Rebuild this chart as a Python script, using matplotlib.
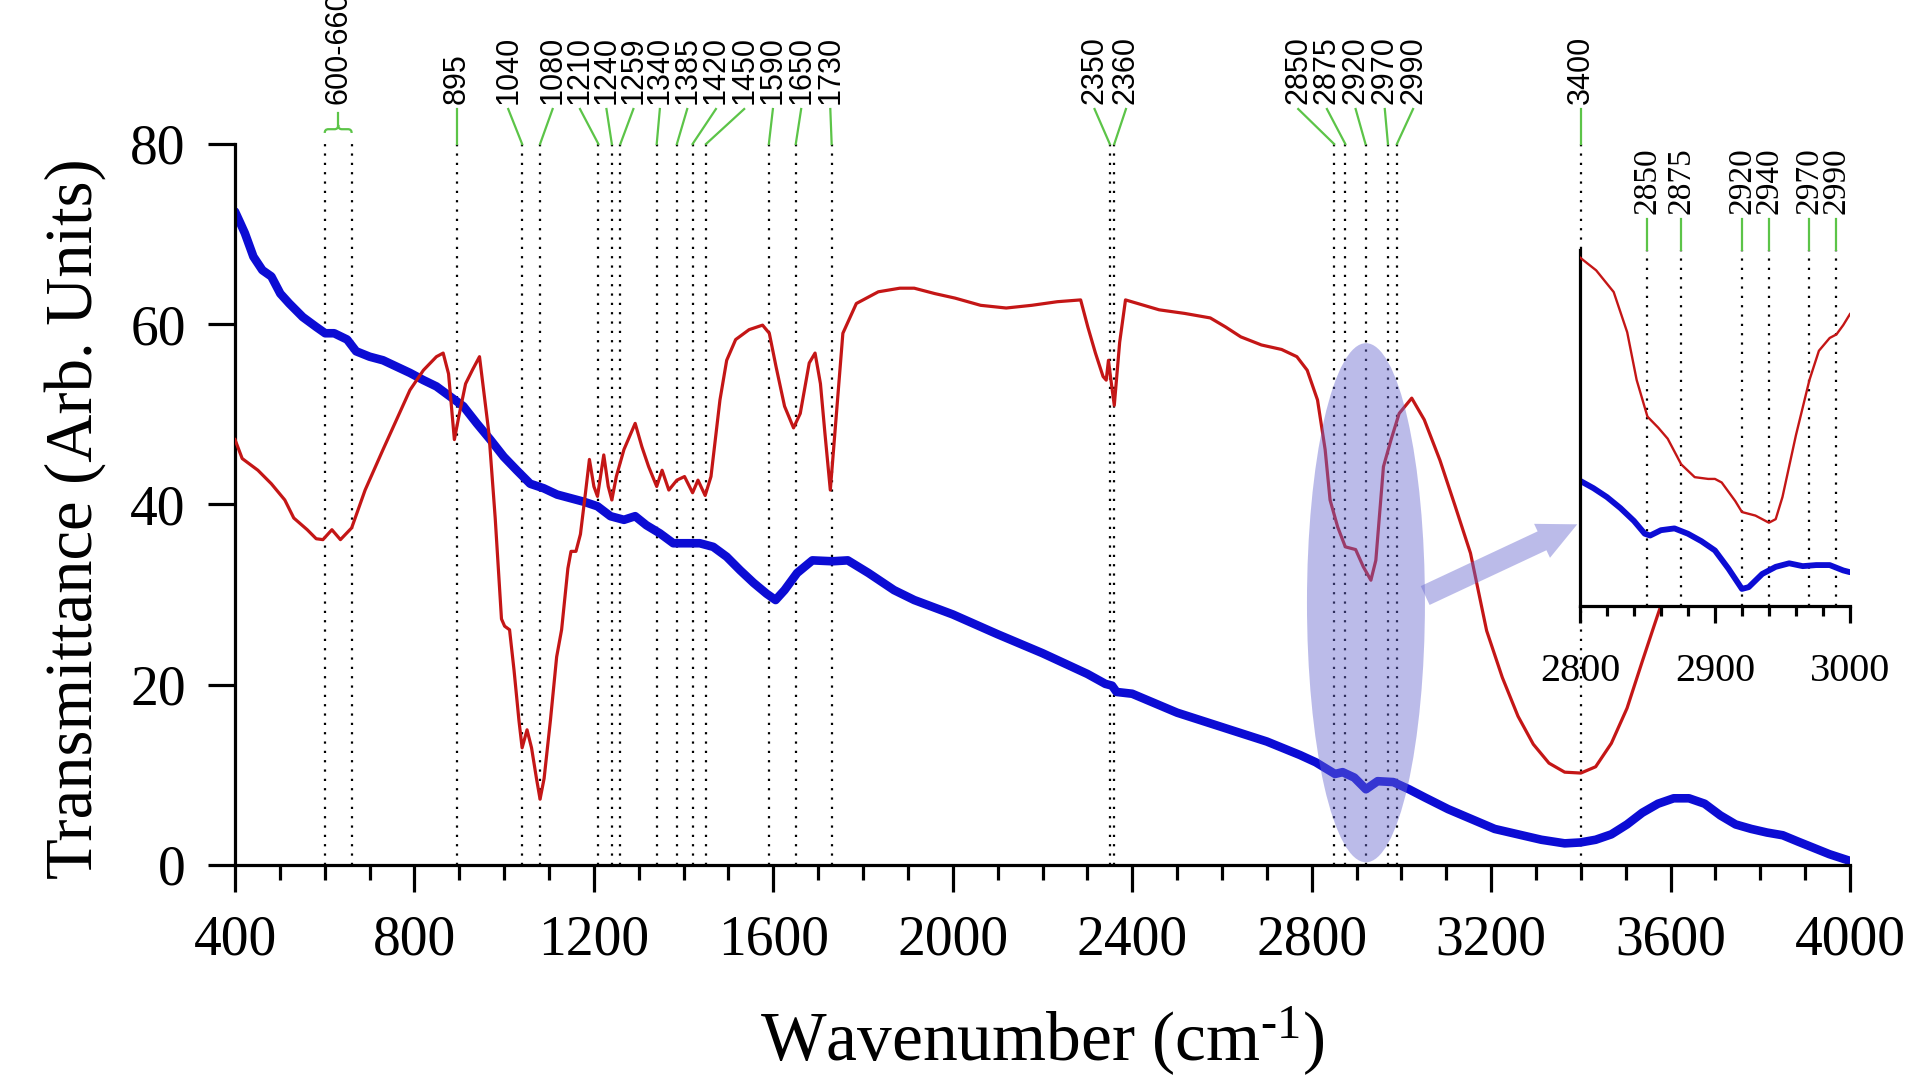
import numpy as np
import matplotlib
matplotlib.use("Agg")
import matplotlib.pyplot as plt
from matplotlib.patches import Ellipse, FancyArrowPatch, PathPatch
from matplotlib.path import Path
from matplotlib.transforms import blended_transform_factory

# ---------------- data ----------------
red_x = [400, 416, 451, 481, 511, 531, 561, 581, 596, 616, 635, 660, 690, 730, 760, 790,
         820, 849, 864, 876, 889, 899, 914, 930, 945, 966, 980, 994, 1001, 1012, 1022,
         1033, 1040, 1051, 1061, 1072, 1080, 1089, 1103, 1117, 1128, 1142, 1149, 1160,
         1170, 1181, 1190, 1200, 1208, 1222, 1232, 1240, 1250, 1267, 1292, 1307, 1322,
         1340, 1352, 1367, 1385, 1402, 1420, 1432, 1448, 1461, 1481, 1496, 1516, 1546,
         1576, 1591, 1606, 1625, 1645, 1660, 1680, 1693, 1705, 1715, 1727, 1740, 1755,
         1785, 1834, 1882, 1914, 1960, 2005, 2062, 2119, 2176, 2233, 2285, 2301, 2318,
         2335, 2342, 2347, 2352, 2360, 2372, 2385, 2426, 2460, 2517, 2574, 2608, 2642,
         2688, 2733, 2767, 2790, 2813, 2830, 2841, 2858, 2875, 2898, 2915, 2932, 2943,
         2960, 2977, 2995, 3023, 3051, 3086, 3120, 3154, 3190, 3225, 3260, 3294, 3329,
         3364, 3400, 3433, 3468, 3503, 3537, 3563, 3590]
red_y = [47.2, 45.1, 43.8, 42.3, 40.5, 38.5, 37.2, 36.2, 36.1, 37.2, 36.1, 37.4, 41.6,
         46.1, 49.4, 52.7, 54.9, 56.4, 56.8, 54.5, 47.2, 49.8, 53.4, 55.0, 56.4, 47.9,
         38.5, 27.3, 26.5, 26.1, 21.6, 16.0, 13.0, 15.0, 13.0, 9.6, 7.3, 9.6, 16.0, 23.1,
         26.1, 32.9, 34.8, 34.8, 36.7, 41.2, 45.0, 42.0, 40.9, 45.5, 42.0, 40.5, 43.1,
         46.1, 49.0, 46.4, 44.2, 42.0, 43.8, 41.6, 42.7, 43.1, 41.3, 42.7, 41.0, 43.1,
         51.6, 56.0, 58.3, 59.4, 59.9, 59.0, 55.3, 50.9, 48.5, 50.1, 55.7, 56.8, 53.4,
         47.9, 41.6, 49.7, 59.0, 62.3, 63.6, 64.0, 64.0, 63.4, 62.9, 62.1, 61.8, 62.1,
         62.5, 62.7, 59.7, 56.8, 54.2, 53.8, 56.0, 54.0, 51.0, 58.0, 62.7, 62.1, 61.6,
         61.2, 60.7, 59.7, 58.6, 57.7, 57.2, 56.4, 54.9, 51.6, 46.1, 40.5, 37.5, 35.3,
         35.0, 33.1, 31.6, 33.8, 44.2, 47.2, 50.1, 51.8, 49.4, 44.9, 39.8, 34.6, 26.0,
         20.8, 16.5, 13.4, 11.3, 10.3, 10.2, 10.9, 13.5, 17.4, 22.6, 26.5, 30.5]

blue_x = [400, 412, 422, 441, 461, 481, 501, 521, 551, 581, 601, 621, 650, 670, 700, 730,
          760, 790, 820, 849, 879, 909, 939, 969, 999, 1028, 1058, 1088, 1118, 1148, 1178,
          1208, 1237, 1267, 1292, 1317, 1347, 1377, 1407, 1436, 1466, 1496, 1526, 1556,
          1585, 1605, 1625, 1653, 1687, 1732, 1766, 1812, 1869, 1914, 2000, 2100, 2200,
          2300, 2340, 2355, 2365, 2400, 2500, 2600, 2700, 2774, 2809, 2852, 2869, 2895,
          2921, 2947, 2982, 3017, 3052, 3104, 3156, 3208, 3260, 3312, 3364, 3399, 3433,
          3468, 3503, 3537, 3572, 3607, 3641, 3676, 3711, 3745, 3780, 3815, 3850, 3884,
          3919, 3954, 3997]
blue_y = [72.5, 71.2, 70.1, 67.5, 66.0, 65.3, 63.4, 62.3, 60.8, 59.7, 59.0, 59.0, 58.3,
          57.0, 56.4, 56.0, 55.3, 54.6, 53.8, 53.1, 52.0, 50.9, 49.0, 47.2, 45.3, 43.8,
          42.3, 41.8, 41.1, 40.7, 40.3, 39.8, 38.7, 38.3, 38.7, 37.7, 36.8, 35.7, 35.7,
          35.7, 35.3, 34.2, 32.7, 31.3, 30.1, 29.4, 30.5, 32.4, 33.8, 33.7, 33.8, 32.4,
          30.5, 29.4, 27.8, 25.6, 23.5, 21.2, 20.1, 19.9, 19.2, 19.0, 16.9, 15.3, 13.7,
          12.2, 11.4, 10.1, 10.3, 9.7, 8.4, 9.3, 9.2, 8.4, 7.5, 6.2, 5.1, 4.0, 3.4, 2.8,
          2.4, 2.5, 2.8, 3.4, 4.5, 5.8, 6.8, 7.4, 7.4, 6.8, 5.5, 4.5, 4.0, 3.6, 3.3, 2.6,
          1.9, 1.2, 0.5]

inset_red_x = [2800, 2812, 2825, 2835, 2842, 2850, 2858, 2865, 2875, 2885, 2895, 2900,
               2905, 2915, 2920, 2930, 2940, 2945, 2950, 2960, 2970, 2977, 2985, 2990,
               2995, 3000]
inset_red_y = [97.9, 94.3, 88.2, 76.9, 63.5, 53.2, 50.1, 47.0, 39.8, 36.2, 35.7, 35.7,
               34.7, 29.5, 26.4, 25.4, 23.4, 24.4, 30.6, 48.0, 63.5, 71.7, 75.3, 76.3,
               78.9, 82.0]
inset_blue_x = [2800, 2810, 2820, 2830, 2840, 2848, 2852, 2860, 2870, 2880, 2890, 2900,
                2910, 2920, 2925, 2935, 2945, 2955, 2965, 2975, 2985, 2995, 3000]
inset_blue_y = [35.2, 33.1, 30.6, 27.5, 23.9, 20.3, 19.8, 21.3, 21.8, 20.3, 18.2, 15.6,
                10.5, 4.8, 5.3, 9.0, 11.0, 12.0, 11.2, 11.5, 11.5, 10.0, 9.5]

# peak markers: (peak position, label position, label text)
peak_pos = [1040, 1080, 1210, 1240, 1259, 1340, 1385, 1420, 1450, 1590, 1650, 1730,
            2350, 2360, 2850, 2875, 2920, 2970, 2990, 3400, 895]
peak_label_x = [1009, 1108, 1169, 1228, 1288, 1347, 1408, 1472, 1535, 1599, 1662, 1727,
                2316, 2386, 2770, 2834, 2898, 2963, 3026, 3400, 895]
peak_text = ["1040", "1080", "1210", "1240", "1259", "1340", "1385", "1420", "1450",
             "1590", "1650", "1730", "2350", "2360", "2850", "2875", "2920", "2970",
             "2990", "3400", "895"]
range_peaks = [600, 660]
range_text = "600-660"

inset_peaks = [2850, 2875, 2920, 2940, 2970, 2990]
inset_text = ["2850", "2875", "2920", "2940", "2970", "2990"]

x_ticks = [400, 800, 1200, 1600, 2000, 2400, 2800, 3200, 3600, 4000]
y_ticks = [0, 20, 40, 60, 80]
inset_ticks = [2800, 2900, 3000]

# ---------------- style ----------------
plt.rcParams['font.family'] = ['Liberation Serif', 'DejaVu Serif']
plt.rcParams['mathtext.fontset'] = 'custom'
plt.rcParams['mathtext.rm'] = 'Liberation Serif'
plt.rcParams['mathtext.it'] = 'Liberation Serif:italic'
plt.rcParams['mathtext.bf'] = 'Liberation Serif:bold'

RED = '#c41616'
BLUE = '#0c0cd4'
GREEN = '#5cc448'
LAV = '#6a6ad0'
DOT = (0, (1, 3.2))

fig = plt.figure(figsize=(19.1, 10.81), dpi=100)
ax = fig.add_axes([0.12304, 0.19982, 0.84555, 0.66698])

ax.set_xlim(400, 4000)
ax.set_ylim(0, 80)
for s in ['top', 'right']:
    ax.spines[s].set_visible(False)
for s in ['left', 'bottom']:
    ax.spines[s].set_linewidth(2.3)

ax.set_xticks(x_ticks)
ax.set_xticks(np.arange(400, 4001, 100), minor=True)
ax.set_yticks(y_ticks)
ax.tick_params(axis='both', which='major', length=19.5, width=2.3, direction='out',
               labelsize=40)
ax.tick_params(axis='x', which='major', pad=16)
ax.tick_params(axis='y', which='major', pad=16)
ax.tick_params(axis='x', which='minor', length=10.5, width=2.3, direction='out')

ax.set_xlabel('Wavenumber (cm$^{\\mathrm{\u2010}1}$)', fontsize=50)
ax.xaxis.label.set_va('center')
ax.xaxis.set_label_coords(0.5, -0.244)
ax.set_ylabel('Transmittance (Arb. Units)', fontsize=48)
ax.yaxis.label.set_va('center')
ax.yaxis.set_label_coords(-0.099, 0.481)

# dotted guide lines
all_guides = range_peaks + peak_pos
ax.vlines(all_guides, 0, 80, colors='k', linestyles=DOT, linewidth=1.6, zorder=1)

ax.plot(blue_x, blue_y, color=BLUE, lw=6.2, zorder=2, solid_joinstyle='round',
        solid_capstyle='round')
ax.plot(red_x, red_y, color=RED, lw=2.3, zorder=3)

# highlight ellipse and arrow
ax.add_patch(Ellipse((2921, 29.1), 263, 57.6, facecolor=LAV, alpha=0.45,
                     edgecolor='none', zorder=5))
arrow = FancyArrowPatch((3053, 29.9), (3392, 37.8),
                        arrowstyle='simple,head_width=2.7,head_length=2.8,tail_width=1.5',
                        mutation_scale=10, color=LAV, alpha=0.45, lw=0,
                        shrinkA=0, shrinkB=0, zorder=5)
ax.add_patch(arrow)

# top peak labels
trans = blended_transform_factory(ax.transData, ax.transAxes)
y_line_top = 1.0485
y_text = 1.0555
LABEL_FS = 22
for p, lx, t in zip(peak_pos, peak_label_x, peak_text):
    ax.plot([lx, p], [y_line_top, 1.0], transform=trans, color=GREEN, lw=1.6,
            clip_on=False)
    ax.text(lx, y_text, t, rotation=90, ha='center', va='bottom', fontsize=LABEL_FS,
            family='Liberation Sans', transform=trans, clip_on=False)

# brace for 600-660
a, b = range_peaks
m = 0.5 * (a + b)
y0, ym, yt = 1.0153, 1.0205, 1.0264
verts = [(a, y0), (a, ym), (a + 8, ym), (m - 8, ym), (m, ym), (m, yt),
         (m, ym), (m + 8, ym), (b - 8, ym), (b, ym), (b, y0)]
codes = [Path.MOVETO, Path.CURVE3, Path.CURVE3, Path.LINETO, Path.CURVE3, Path.CURVE3,
         Path.CURVE3, Path.CURVE3, Path.LINETO, Path.CURVE3, Path.CURVE3]
ax.add_patch(PathPatch(Path(verts, codes), transform=trans, fill=False,
                       edgecolor=GREEN, lw=1.6, clip_on=False))
ax.plot([m, m], [yt, 1.043], transform=trans, color=GREEN, lw=1.6, clip_on=False)
ax.text(m, y_text, range_text, rotation=90, ha='center', va='bottom', fontsize=LABEL_FS,
        family='Liberation Sans', transform=trans, clip_on=False)

# ---------------- inset ----------------
ax2 = fig.add_axes([0.8272, 0.4394, 0.14136, 0.3293])
ax2.set_facecolor('white')
ax2.set_xlim(2800, 3000)
ax2.set_ylim(0, 100)
for s in ['top', 'right']:
    ax2.spines[s].set_visible(False)
for s in ['left', 'bottom']:
    ax2.spines[s].set_linewidth(2.3)
ax2.set_yticks([])
ax2.set_xticks(inset_ticks)
ax2.set_xticks(np.arange(2800, 3001, 20), minor=True)
ax2.tick_params(axis='x', which='major', length=12, width=2.3, labelsize=29, pad=22)
ax2.tick_params(axis='x', which='minor', length=7, width=2.3)

ax2.vlines(inset_peaks, 0, 100, colors='k', linestyles=DOT, linewidth=1.6, zorder=1)
ax2.plot(inset_blue_x, inset_blue_y, color=BLUE, lw=4.2, zorder=2,
         solid_joinstyle='round', solid_capstyle='round')
ax2.plot(inset_red_x, inset_red_y, color=RED, lw=1.7, zorder=3)

trans2 = blended_transform_factory(ax2.transData, ax2.transAxes)
for p, t in zip(inset_peaks, inset_text):
    ax2.plot([p, p], [1.0, 1.087], transform=trans2, color=GREEN, lw=1.6, clip_on=False)
    ax2.text(p, 1.1, t, rotation=90, ha='center', va='bottom', fontsize=24,
             transform=trans2, clip_on=False)

fig.savefig('out.png', dpi=100)
